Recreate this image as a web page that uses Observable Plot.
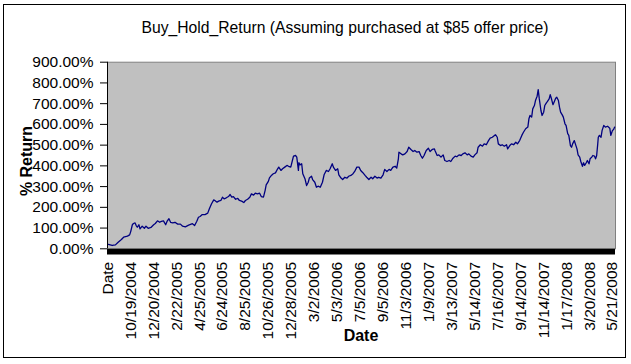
<!DOCTYPE html>
<html>
<head>
<meta charset="utf-8">
<script src="https://cdn.jsdelivr.net/npm/d3@7"></script>
<script src="https://cdn.jsdelivr.net/npm/@observablehq/plot@0.6"></script>
<style>
  html, body { margin: 0; padding: 0; background: #fff; }
  #wrap { position: relative; width: 631px; height: 364px; overflow: hidden;
          font-family: "Liberation Sans", Arial, sans-serif; color: #000; }
  #chart { position: absolute; left: 0; top: 0; }
  #border { position: absolute; left: 3px; top: 4px; width: 623px; height: 354px;
            border: 1px solid #000; box-sizing: border-box; pointer-events: none; }
  .lbl { position: absolute; white-space: nowrap; line-height: 1; }
  #title { left: 345px; top: 20px; transform: translateX(-50%); font-size: 15.7px; }
  #xtitle { left: 361px; top: 328px; transform: translateX(-50%); font-size: 16px; font-weight: bold; }
  #ytitle { left: 27px; top: 161px; transform: translate(-50%, -50%) rotate(-90deg); font-size: 16px; font-weight: bold; }
</style>
</head>
<body>
<div id="wrap">
  <div id="chart"></div>
  <div id="border"></div>
  <div class="lbl" id="title">Buy_Hold_Return (Assuming purchased at $85 offer price)</div>
  <div class="lbl" id="xtitle">Date</div>
  <div class="lbl" id="ytitle">% Return</div>
</div>
<script>
// Category labels shown on the x axis (every 42nd category, first is the header "Date")
const categoryLabels = ["Date", "10/19/2004", "12/20/2004", "2/22/2005", "4/25/2005", "6/24/2005",
  "8/25/2005", "10/26/2005", "12/28/2005", "3/2/2006", "5/3/2006", "7/5/2006", "9/5/2006",
  "11/3/2006", "1/9/2007", "3/13/2007", "5/14/2007", "7/16/2007", "9/14/2007", "11/14/2007",
  "1/17/2008", "3/20/2008", "5/21/2008"];
const labelStep = 42;
const categoryCount = 930;

// Trading-day index (category number) and return in percent
const dayIndex = [1,8,14,19,25,29,36,40,42,45,47,50,52,54,57,59,63,67,70,74,79,84,87,91,95,98,102,106,109,112,115,119,123,128,133,137,142,148,155,159,163,166,169,173,178,183,186,190,194,196,200,203,207,210,213,217,221,224,227,230,234,238,241,245,249,252,256,260,263,267,270,274,278,281,285,288,290,294,296,300,303,307,311,313,317,320,324,328,331,335,338,340,344,346,349,350,352,355,357,361,364,367,369,373,375,379,382,385,389,393,396,400,404,407,411,413,417,421,423,427,430,434,438,441,445,449,452,456,460,463,467,471,474,478,482,485,489,493,496,500,504,507,511,515,518,522,526,529,532,533,537,540,544,548,551,555,559,562,566,570,573,576,579,583,587,590,594,598,599,603,606,610,614,617,621,625,628,632,636,639,643,647,650,654,658,661,665,669,672,676,678,682,686,689,693,697,700,704,708,710,713,715,719,722,726,730,732,736,739,743,747,750,754,758,761,765,769,771,773,776,778,781,783,786,788,790,793,795,798,800,803,805,808,810,812,815,817,820,822,825,827,829,832,834,837,839,842,844,847,849,851,854,856,859,861,864,866,869,871,873,876,878,881,883,886,888,891,893,895,897,898,900,903,905,908,911,915,919,921,924,926,928];
const returnPct = [21,16,19,32,45,56,61,67,83,116,122,125,112,104,116,96,109,99,109,99,103,116,122,135,128,132,135,116,135,145,128,125,128,119,119,109,106,114,121,112,133,152,156,165,165,172,193,217,236,233,225,230,233,249,241,246,252,262,249,252,239,243,233,230,223,233,239,249,265,259,268,265,268,252,249,281,308,325,342,355,362,366,386,394,378,386,394,402,398,394,426,447,450,442,378,415,405,410,362,338,305,321,341,350,334,321,297,302,297,321,357,378,373,386,410,394,378,386,357,341,334,345,341,350,354,362,373,394,394,378,367,354,345,334,345,338,350,341,345,341,357,383,373,383,378,394,398,389,434,466,458,453,458,469,490,479,469,474,466,469,450,437,450,474,485,469,479,482,474,450,453,442,453,426,421,426,421,437,447,444,453,450,458,463,453,458,447,442,453,463,490,502,495,506,502,522,534,538,547,550,538,506,498,502,495,502,482,498,506,502,514,506,522,547,562,579,587,627,643,635,675,691,715,736,768,723,667,643,659,691,704,711,723,743,726,695,707,726,731,715,683,659,646,635,603,595,555,547,498,490,506,522,506,482,453,442,421,398,415,402,415,426,410,434,442,450,447,434,450,506,538,547,538,571,595,587,591,582,547,571,575,587];

const yTicks = [0, 100, 200, 300, 400, 500, 600, 700, 800, 900];

const points = dayIndex.map((d, i) => ({x: d + 0.5, y: returnPct[i]}));
const tickPos = categoryLabels.map((_, i) => i * labelStep + 0.5);
const labelMap = new Map(tickPos.map((p, i) => [p, categoryLabels[i]]));

const chart = Plot.plot({
  width: 631,
  height: 364,
  marginTop: 61.7,
  marginBottom: 115.7,
  marginLeft: 107,
  marginRight: 16,
  style: {fontFamily: '"Liberation Sans", Arial, sans-serif', fontSize: "15.5px", background: "transparent", color: "#000"},
  x: {domain: [0, categoryCount], label: null},
  y: {domain: [0, 900], label: null},
  marks: [
    Plot.frame({fill: "#C0C0C0", stroke: "#808080", strokeWidth: 1}),
    Plot.line(points, {x: "x", y: "y", stroke: "#000080", strokeWidth: 1.3}),
    Plot.ruleY([0], {stroke: "#000", strokeWidth: 5.7, dy: 2.85}),
    Plot.ruleX([0], {stroke: "#000", strokeWidth: 1}),
    Plot.axisY(yTicks, {label: null, tickFormat: d => d.toFixed(2) + "%", tickSize: 7, tickPadding: 7, stroke: "#000", fill: "#000", fontSize: 15.5}),
    Plot.axisX(tickPos, {label: null, tickFormat: d => labelMap.get(d), tickRotate: -90, tickSize: 0, tickPadding: 13, fill: "#000", fontSize: 15.5})
  ]
});
document.getElementById("chart").appendChild(chart);
</script>
</body>
</html>
